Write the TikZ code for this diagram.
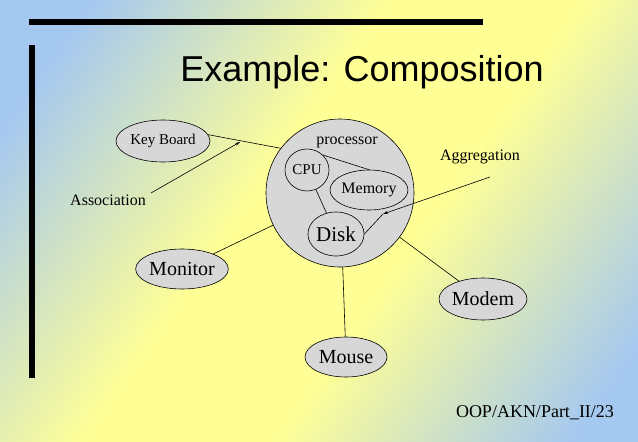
\documentclass[tikz,border=0pt]{standalone}
\usepackage{fontspec}
\setmainfont{Liberation Serif}
\newfontfamily\titlefont{Liberation Sans}
\usetikzlibrary{arrows.meta,shapes.geometric}
\definecolor{bgblue}{RGB}{165,200,240}
\definecolor{bgyellow}{RGB}{255,255,150}
\definecolor{partgray}{RGB}{215,215,215}
\pgfdeclarehorizontalshading{bgshade}{100bp}{color(0bp)=(bgblue); color(22bp)=(bgblue); color(44bp)=(bgyellow); color(58bp)=(bgyellow); color(80bp)=(bgblue); color(100bp)=(bgblue)}
\tikzset{
  part/.style={draw=black,fill=partgray,ellipse,inner sep=0pt,line width=0.6pt},
  link/.style={draw=black,line width=0.6pt},
  note/.style={-{Stealth[length=5pt,width=3pt]},line width=0.6pt},
}
\newcommand{\fs}[1]{\fontsize{#1}{#1}\selectfont}
\begin{document}
\begin{tikzpicture}[x=1pt,y=-1pt]

  % background
  \useasboundingbox (0,0) rectangle (638,442);
  \shade[shading=bgshade,shading angle=-35] (0,0) rectangle (638,442);
  \fill[black] (29,19) rectangle (483,25);
  \fill[black] (29,45) rectangle (35,378);

  % title
  \node (title) at (362,72) {\titlefont\fs{36}Example: Composition};

  % processor and its parts
  \node[part,circle,minimum size=148pt] (proc) at (340,193) {};
  \node (proclabel) at (347,142) {\fs{16}processor};
  \node[part,minimum width=44pt,minimum height=42pt] (cpu) at (307,170) {\fs{15}CPU};
  \node[part,minimum width=62pt,minimum height=40pt] (memory) at (369,190) {\fs{16}Memory};
  \node[part,minimum width=54pt,minimum height=44pt] (disk) at (336,234) {\fs{21}Disk};

  % devices
  \node[part,minimum width=94pt,minimum height=42pt] (keyboard) at (163,141) {\fs{15}Key Board};
  \node[part,minimum width=78pt,minimum height=40pt] (monitor) at (182,269) {\fs{20}Monitor};
  \node[part,minimum width=84pt,minimum height=42pt] (modem) at (483,299) {\fs{20}Modem};
  \node[part,minimum width=82pt,minimum height=40pt] (mouse) at (346,357) {\fs{20}Mouse};

  % connectors
  \draw[link] (keyboard.8) -- (proc.143);
  \draw[link] (monitor) -- (proc);
  \draw[link] (mouse) -- (proc);
  \draw[link] (modem) -- (proc);
  \draw[link] (cpu.north east) -- (memory.north);
  \draw[link] (cpu) -- (disk);

  % notes
  \node (assoc) at (108,200) {\fs{16}Association};
  \node (aggr) at (480,157) {\fs{16}Aggregation};
  \coordinate (assocstart) at (151,193);
  \coordinate (assoctip) at (240,142);
  \coordinate (aggrtip) at (383,214);
  \coordinate (aggrstart) at (490,177);
  \draw[note] (assocstart) -- (assoctip);
  \draw[note] (aggrstart) -- (aggrtip);
  \draw[link] (aggrtip) -- (disk.east);

  % footer
  \node (footer) at (535,413) {\fs{18}OOP/AKN/Part\_II/23};

\end{tikzpicture}
\end{document}
